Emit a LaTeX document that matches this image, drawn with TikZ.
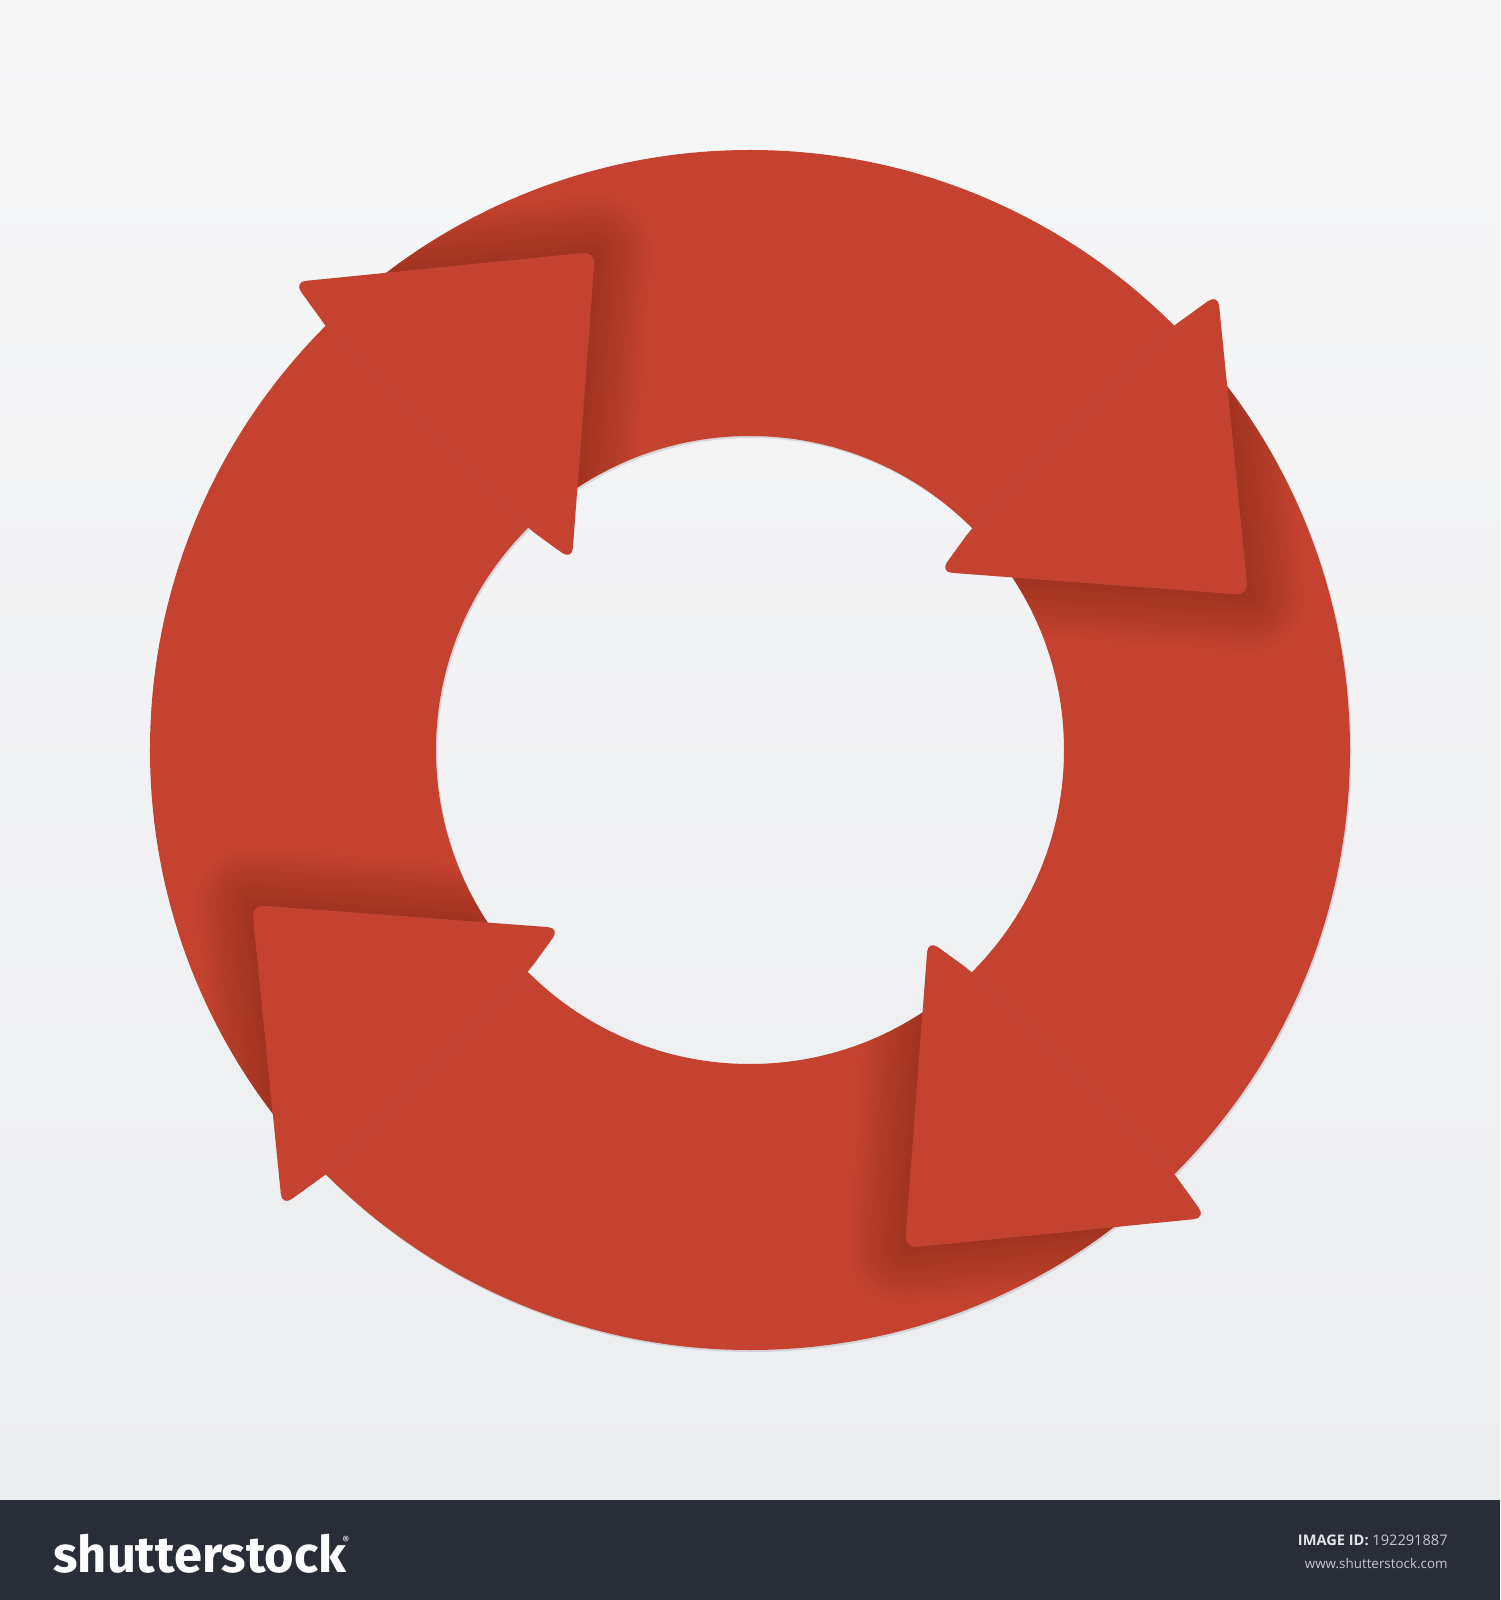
\documentclass[tikz,border=0pt]{standalone}
\usepackage{fontspec}
\setmainfont{Open Sans}
\newfontfamily\logofont{Fira Sans}
\usetikzlibrary{calc}
\definecolor{ringred}{RGB}{196,66,47}
\definecolor{shadowc}{RGB}{80,15,5}
\definecolor{edgegray}{RGB}{150,150,155}
\definecolor{barbg}{RGB}{40,45,56}
\definecolor{bgtop}{RGB}{247,247,248}
\definecolor{bgbot}{RGB}{236,237,239}
\definecolor{idwhite}{RGB}{226,228,232}
\definecolor{idgray}{RGB}{196,199,205}
\begin{document}
\begin{tikzpicture}[x=0.5pt,y=0.5pt,
  shadowstroke/.style={draw=shadowc, draw opacity=0.02, line join=round, line cap=round},
  edgeshadow/.style={fill=edgegray, fill opacity=0.3},
  bartext/.style={inner sep=0pt, anchor=base east}]
\useasboundingbox (-750,-850) rectangle (750,750);
% background
\shade[top color=bgtop, bottom color=bgbot] (-750,-750) rectangle (750,750);
% thin drop edge of the ring on the background
\fill[edgeshadow, even odd rule, shift={(1.5,-2)}] (0,0) circle[radius=600] (0,0) circle[radius=314];
% ring
\fill[ringred, even odd rule] (0,0) circle[radius=600] (0,0) circle[radius=314];
% arrowheads with shadows
\foreach \k in {0,90,180,270}{
  \coordinate (A) at (134.26-\k:653.4);
  \coordinate (T) at (107.29-\k:521.6);
  \coordinate (B) at (133.13-\k:260.4);
  \coordinate (No) at (135-\k:601);
  \coordinate (Ni) at (135-\k:313);
  \begin{scope}
    \clip (135-\k:314) -- (135-\k:600) arc[start angle=135-\k, end angle=65-\k, radius=600]
          -- (65-\k:314) arc[start angle=65-\k, end angle=135-\k, radius=314] -- cycle;
    \foreach \w in {8,16,...,112}
      \draw[shadowstroke, line width=\w*0.5pt] (A) -- (T) -- (B);
  \end{scope}
  \fill[edgeshadow, shift={(1.5,-2)}] (No) [rounded corners=6pt] -- (A) -- (T) -- (B) -- (Ni) [sharp corners] -- cycle;
  \fill[ringred] (No) [rounded corners=6pt] -- (A) -- (T) -- (B) -- (Ni) [sharp corners] -- cycle;
}
% bottom bar
\fill[barbg] (-750,-750) rectangle (750,-850);
\node[inner sep=0pt, anchor=base west, text=white,
      font=\logofont\bfseries\fontsize{25.3}{26}\selectfont] (logo) at (-697,-822) {shutterstock};
\node[inner sep=0pt, text=white, font=\logofont\fontsize{5.5}{6}\selectfont] (reg) at (-404,-790) {®};
\node[bartext, text=idwhite, font=\fontsize{7.3}{9}\selectfont] (imgid) at (698,-795)
  {\textbf{IMAGE ID:} {\color{idgray}192291887}};
\node[bartext, text=idgray, font=\fontsize{6.7}{8}\selectfont] (www) at (698,-818) {www.shutterstock.com};
\end{tikzpicture}
\end{document}
